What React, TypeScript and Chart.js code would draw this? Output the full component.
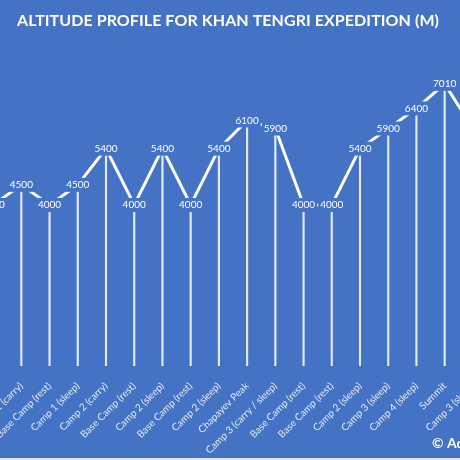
import React, { useEffect, useRef } from "react";
import { Chart, registerables } from "chart.js";

Chart.register(...registerables);

const categories: string[] = [
  "Base Camp",
  "Camp 1 (carry)",
  "Base Camp (rest)",
  "Camp 1 (sleep)",
  "Camp 2 (carry)",
  "Base Camp (rest)",
  "Camp 2 (sleep)",
  "Base Camp (rest)",
  "Camp 2 (sleep)",
  "Chapayev Peak",
  "Camp 3 (carry / sleep)",
  "Base Camp (rest)",
  "Base Camp (rest)",
  "Camp 2 (sleep)",
  "Camp 3 (sleep)",
  "Camp 4 (sleep)",
  "Summit",
  "Camp 3 (sleep)",
];

const altitudes: number[] = [
  4000, 4500, 4000, 4500, 5400, 4000, 5400, 4000, 5400, 6100, 5900, 4000,
  4000, 5400, 5900, 6400, 7010, 5900,
];

const titleText = "ALTITUDE PROFILE FOR KHAN TENGRI EXPEDITION (M)";
const creditText = "© Adventure";

const BG = "#4472C4";
const CANVAS_LEFT = -28;
const CANVAS_WIDTH = 515;

const decorPlugin = {
  id: "decor",
  afterDatasetsDraw(chart: any) {
    const ctx = chart.ctx;
    const meta = chart.getDatasetMeta(0);
    ctx.save();
    ctx.font = "10px Lato";
    ctx.textAlign = "center";
    ctx.textBaseline = "middle";
    meta.data.forEach((el: any, i: number) => {
      const txt = String(altitudes[i]);
      const w = ctx.measureText(txt).width;
      ctx.fillStyle = BG;
      ctx.fillRect(el.x - w / 2 - 2, el.y - 7, w + 4, 14);
      ctx.fillStyle = "#ffffff";
      ctx.fillText(txt, el.x, el.y);
    });
    ctx.restore();
  },
  afterDraw(chart: any) {
    const ctx = chart.ctx;
    ctx.save();
    ctx.fillStyle = "#ffffff";
    ctx.textBaseline = "middle";
    ctx.textAlign = "left";
    ctx.font = "bold 16px Lato";
    (ctx as any).letterSpacing = "0px";
    const w = ctx.measureText(titleText).width;
    const target = 422;
    const ls = (target - w) / (titleText.length - 1);
    (ctx as any).letterSpacing = ls + "px";
    ctx.fillText(titleText, 17 - CANVAS_LEFT, 21);
    (ctx as any).letterSpacing = "0px";
    ctx.font = "bold 14px Lato";
    ctx.fillText(creditText, 432 - CANVAS_LEFT, 443);
    ctx.restore();
  },
};

export default function App() {
  const ref = useRef<HTMLCanvasElement | null>(null);
  useEffect(() => {
    if (!ref.current) return;
    const chart = new Chart(ref.current, {
      type: "line",
      data: {
        labels: categories,
        datasets: [
          {
            type: "line",
            data: altitudes,
            borderColor: "#ffffff",
            borderWidth: 3,
            pointRadius: 0,
            tension: 0,
            order: 1,
          },
          {
            type: "bar",
            data: altitudes,
            backgroundColor: "rgba(255,255,255,0.85)",
            barThickness: 1.5,
            order: 2,
          } as any,
        ],
      },
      options: {
        animation: false,
        responsive: true,
        maintainAspectRatio: false,
        layout: {
          autoPadding: false,
          padding: { left: 7, right: 0, top: 44, bottom: 0 },
        } as any,
        plugins: {
          legend: { display: false },
          tooltip: { enabled: false },
          title: { display: false },
        },
        scales: {
          x: {
            offset: true,
            grid: { display: false },
            border: { display: false },
            ticks: {
              autoSkip: false,
              minRotation: 45,
              maxRotation: 45,
              color: "rgba(255,255,255,0.85)",
              font: { family: "Lato", size: 10 },
              padding: 6,
            },
            afterFit: (scale: any) => {
              scale.height = 92;
              scale.paddingLeft = 0;
              scale.paddingRight = 0;
              scale.paddingTop = 0;
              scale.paddingBottom = 0;
            },
          },
          y: {
            display: false,
            min: 0,
            max: 8000,
          },
        },
      },
      plugins: [decorPlugin],
    });
    return () => chart.destroy();
  }, []);

  return (
    <div
      style={{
        position: "fixed",
        left: 0,
        top: 0,
        width: 460,
        height: 460,
        overflow: "hidden",
        background: "#dfe5ee",
      }}
    >
      <div
        style={{
          position: "absolute",
          left: 0,
          top: 0,
          width: 460,
          height: 458,
          overflow: "hidden",
          background: BG,
        }}
      >
        <div
          style={{
            position: "absolute",
            left: CANVAS_LEFT,
            top: 0,
            width: CANVAS_WIDTH,
            height: 458,
          }}
        >
          <canvas ref={ref} />
        </div>
      </div>
    </div>
  );
}
